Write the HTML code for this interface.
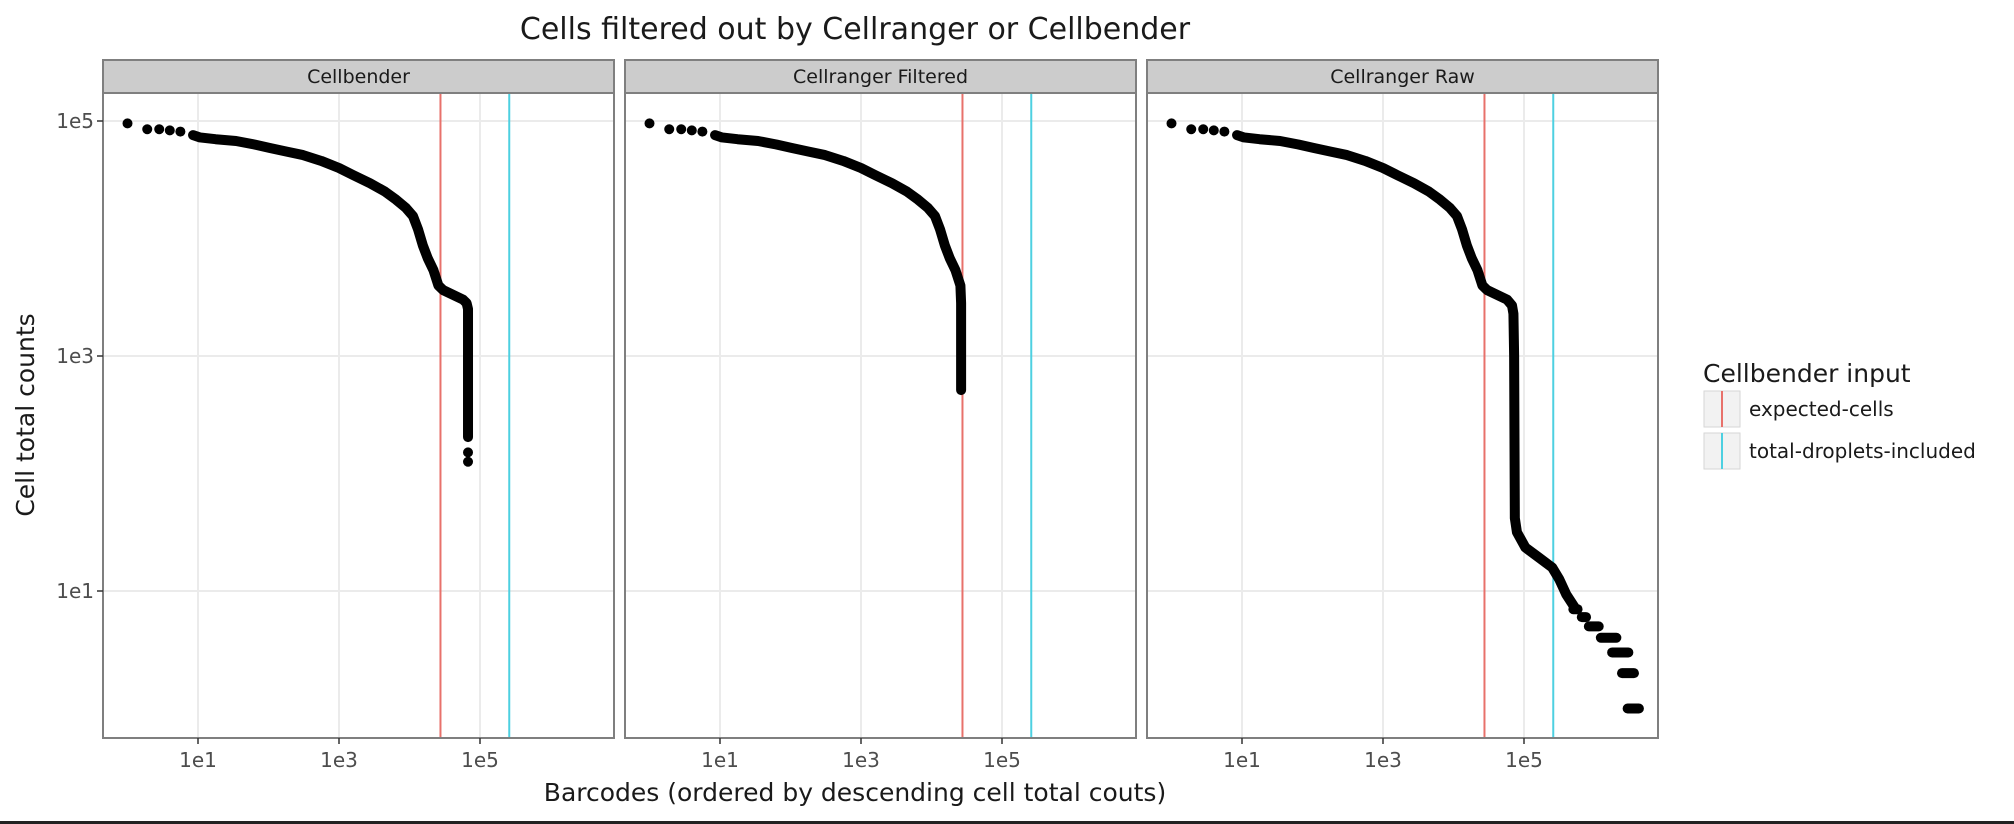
<!DOCTYPE html>
<html><head><meta charset="utf-8"><style>
body{margin:0;background:#fff;}
svg{display:block;font-family:"DejaVu Sans","Liberation Sans",sans-serif;}
</style></head><body>
<svg id="chart" width="2014" height="824" viewBox="0 0 2014 824">
<rect x="0" y="0" width="2014" height="824" fill="#fff"/>
<text x="855" y="39" font-size="30" text-anchor="middle" fill="#1a1a1a">Cells filtered out by Cellranger or Cellbender</text>
<text x="855" y="801" font-size="25" text-anchor="middle" fill="#1a1a1a">Barcodes (ordered by descending cell total couts)</text>
<text transform="translate(34,415) rotate(-90)" font-size="25" text-anchor="middle" fill="#1a1a1a">Cell total counts</text>
<g id="panels"></g>
<g>
<text x="1703" y="382" font-size="25" fill="#1a1a1a">Cellbender input</text>
<g>
<rect x="1704" y="391" width="36" height="36" fill="#f2f2f2" stroke="#d6d6d6"/>
<line x1="1722" y1="391" x2="1722" y2="427" stroke="#E8716B" stroke-width="2"/>
<text x="1749" y="416" font-size="20" fill="#1a1a1a">expected-cells</text></g>
<g>
<rect x="1704" y="433" width="36" height="36" fill="#f2f2f2" stroke="#d6d6d6"/>
<line x1="1722" y1="433" x2="1722" y2="469" stroke="#4DD0E1" stroke-width="2"/>
<text x="1749" y="458" font-size="20" fill="#1a1a1a">total-droplets-included</text></g>
</g>
<rect x="0" y="821" width="2014" height="3" fill="#222"/>
</svg>
<script>
const panelNames = ["Cellbender","Cellranger Filtered","Cellranger Raw"];
const expectedCells = 27500;
const totalDroplets = 260000;
const xTickLabels = ["1e1","1e3","1e5"];
const xTickValues = [10,1000,100000];
const yTickLabels = ["1e1","1e3","1e5"];
const yTickValues = [10,1000,100000];
// shared head of curve: log10(rank), log10(count)
const headLogRank = [0,0.28,0.45,0.6,0.75,0.93,1.03,1.25,1.54,1.8,2.02,2.25,2.49,2.75,3.0,3.2,3.44,3.65,3.81,3.95,4.05,4.12,4.19,4.26,4.34,4.41];
const headLogCount = [4.98,4.93,4.93,4.92,4.91,4.88,4.86,4.845,4.83,4.80,4.77,4.74,4.71,4.66,4.60,4.54,4.47,4.40,4.33,4.26,4.19,4.08,3.94,3.83,3.73,3.60];
// panel specific tails (log10)
const cbTailRank = [4.48,4.76,4.81,4.83,4.83];
const cbTailCount = [3.56,3.48,3.45,3.40,2.31];
const cbOutRank = [4.83,4.83];
const cbOutCount = [2.18,2.10];
const crfTailRank = [4.42,4.42];
const crfTailCount = [3.45,2.71];
const crrTailRank = [4.48,4.76,4.83,4.85,4.86,4.87,4.90,5.02,5.2,5.40,5.5,5.60,5.73];
const crrTailCount = [3.56,3.48,3.43,3.36,3.0,1.62,1.50,1.37,1.29,1.20,1.10,0.97,0.85];
// discrete tail segments for raw: count, start log-rank, end log-rank
const rawDiscreteCount = [7,6,5,4,3,2,1];
const rawDiscreteStart = [5.70,5.82,5.92,6.09,6.25,6.39,6.47];
const rawDiscreteEnd = [5.76,5.88,6.06,6.31,6.48,6.56,6.63];

const NS="http://www.w3.org/2000/svg";
const G=document.getElementById("panels");
const panelLefts=[103,625,1147], PW=511, TOP=93, BOT=738;
function mk(t,a,p){const e=document.createElementNS(NS,t);for(const k in a)e.setAttribute(k,a[k]);(p||G).appendChild(e);return e;}
function xs(left,lr){return left+24.5+lr*70.5;}
function ys(lc){return 121+(5-lc)*117.5;}
const L=Math.log10;
const seriesRank=[headLogRank.concat(cbTailRank),headLogRank.concat(crfTailRank),headLogRank.concat(crrTailRank)];
const seriesCount=[headLogCount.concat(cbTailCount),headLogCount.concat(crfTailCount),headLogCount.concat(crrTailCount)];
panelNames.forEach((nm,i)=>{
  const left=panelLefts[i];
  const g=mk("g",{});
  
  
  mk("rect",{x:left,y:TOP,width:PW,height:BOT-TOP,fill:"#fff"},g);
  yTickValues.forEach((v,k)=>{const y=ys(L(v));
    const gl=mk("line",{x1:left,x2:left+PW,y1:y,y2:y,stroke:"#ebebeb","stroke-width":2},g);
    
    
    if(i===0){
      mk("line",{x1:left-6,x2:left,y1:y,y2:y,stroke:"#333","stroke-width":1.5});
      const t=mk("text",{x:left-9,y:y+7,"font-size":20,"text-anchor":"end",fill:"#4d4d4d"});
      t.textContent=yTickLabels[k];
      
      
    }});
  xTickValues.forEach((v,k)=>{const x=xs(left,L(v));
    const gl=mk("line",{x1:x,x2:x,y1:TOP,y2:BOT,stroke:"#ebebeb","stroke-width":2},g);
    
    
    mk("line",{x1:x,x2:x,y1:BOT,y2:BOT+6,stroke:"#333","stroke-width":1.5});
    const t=mk("text",{x:x,y:767,"font-size":20,"text-anchor":"middle",fill:"#4d4d4d"});
    t.textContent=xTickLabels[k];
    
    
  });
  const ex=xs(left,L(expectedCells)), tx=xs(left,L(totalDroplets));
  const rl=mk("line",{x1:ex,x2:ex,y1:TOP,y2:BOT,stroke:"#E8716B","stroke-width":2},g);
  
  
  const cl=mk("line",{x1:tx,x2:tx,y1:TOP,y2:BOT,stroke:"#4DD0E1","stroke-width":2},g);
  
  
  const R=seriesRank[i], C=seriesCount[i];
  let pts=[];R.forEach((r,k)=>{if(r>=0.93)pts.push(xs(left,r)+","+ys(C[k]));});
  const pl=mk("polyline",{points:pts.join(" "),fill:"none",stroke:"#000","stroke-width":10,"stroke-linejoin":"round","stroke-linecap":"round"},g);
  
  
  R.forEach((r,k)=>{if(r<0.93){const c=mk("circle",{cx:xs(left,r),cy:ys(C[k]),r:5,fill:"#000"},g);
    
    }});
  if(i===0){cbOutRank.forEach((r,k)=>{const c=mk("circle",{cx:xs(left,r),cy:ys(cbOutCount[k]),r:5,fill:"#000"},g);
    
    });}
  if(i===2){rawDiscreteCount.forEach((v,k)=>{const y=ys(L(v));
    const s=mk("line",{x1:xs(left,rawDiscreteStart[k]),x2:xs(left,rawDiscreteEnd[k]),y1:y,y2:y,stroke:"#000","stroke-width":10,"stroke-linecap":"round"},g);
    
    });}
  const b=mk("rect",{x:left,y:TOP,width:PW,height:BOT-TOP,fill:"none",stroke:"#7f7f7f","stroke-width":2},g);
  
  
  const st=mk("rect",{x:left,y:60,width:PW,height:33,fill:"#cccccc",stroke:"#7f7f7f","stroke-width":2},g);
  
  
  const stt=mk("text",{x:left+PW/2,y:83,"font-size":19,"text-anchor":"middle",fill:"#1a1a1a"},g);
  stt.textContent=nm;
  
  
});
</script>
</body></html>
